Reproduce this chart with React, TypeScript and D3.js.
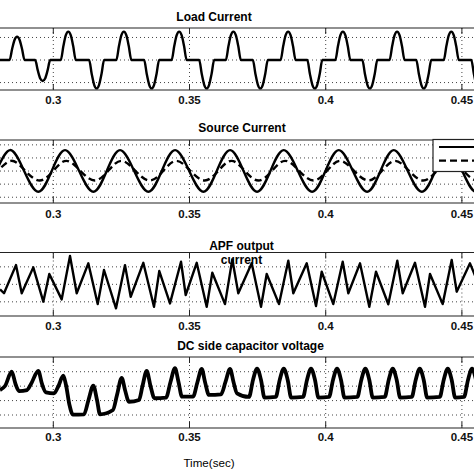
import React from "react";
import * as d3 from "d3";

// ---------- DATA (time in ms, values in per-unit of each panel) ----------
const xTickValues = [0.3, 0.35, 0.4, 0.45];
const xTickLabels = ["0.3", "0.35", "0.4", "0.45"];

const loadTicks = [-1, 0, 1];
const sourceTicks = [-2, -1, 0, 1, 2];
const apfTicks = [-1, 0, 1];
const dcTicks = [0, 1, 2, 3];

const titles = ["Load Current", "Source Current", "APF output", "DC side capacitor voltage"];
const apfTitleLine2 = "current";
const xAxisLabel = "Time(sec)";

const loadCurrent: [number, number][] = [
  [279.0, 0],
  [283.95, 0], [284.9, 0.5], [285.8, 0.9], [286.7, 1.03], [287.6, 0.9], [288.5, 0.5], [289.45, 0],
  [293.35, 0], [294.3, -0.46], [295.2, -0.82], [296.1, -0.93], [297.0, -0.82], [297.9, -0.46], [298.85, 0],
  [302.75, 0], [303.7, 0.62], [304.6, 1.1], [305.5, 1.26], [306.4, 1.1], [307.3, 0.62], [308.25, 0],
  [313.15, 0], [314.1, -0.62], [315.0, -1.1], [315.9, -1.26], [316.8, -1.1], [317.7, -0.62], [318.65, 0],
  [323.15, 0], [324.1, 0.62], [325.0, 1.1], [325.9, 1.26], [326.8, 1.1], [327.7, 0.62], [328.65, 0],
  [333.35, 0], [334.3, -0.62], [335.2, -1.1], [336.1, -1.26], [337.0, -1.1], [337.9, -0.62], [338.85, 0],
  [343.45, 0], [344.4, 0.62], [345.3, 1.1], [346.2, 1.26], [347.1, 1.1], [348.0, 0.62], [348.95, 0],
  [353.55, 0], [354.5, -0.62], [355.4, -1.1], [356.3, -1.26], [357.2, -1.1], [358.1, -0.62], [359.05, 0],
  [363.35, 0], [364.3, 0.62], [365.2, 1.1], [366.1, 1.26], [367.0, 1.1], [367.9, 0.62], [368.85, 0],
  [373.25, 0], [374.2, -0.62], [375.1, -1.1], [376.0, -1.26], [376.9, -1.1], [377.8, -0.62], [378.75, 0],
  [383.45, 0], [384.4, 0.62], [385.3, 1.1], [386.2, 1.26], [387.1, 1.1], [388.0, 0.62], [388.95, 0],
  [393.25, 0], [394.2, -0.62], [395.1, -1.1], [396.0, -1.26], [396.9, -1.1], [397.8, -0.62], [398.75, 0],
  [403.55, 0], [404.5, 0.62], [405.4, 1.1], [406.3, 1.26], [407.2, 1.1], [408.1, 0.62], [409.05, 0],
  [413.45, 0], [414.4, -0.62], [415.3, -1.1], [416.2, -1.26], [417.1, -1.1], [418.0, -0.62], [418.95, 0],
  [423.45, 0], [424.4, 0.62], [425.3, 1.1], [426.2, 1.26], [427.1, 1.1], [428.0, 0.62], [428.95, 0],
  [433.25, 0], [434.2, -0.62], [435.1, -1.1], [436.0, -1.26], [436.9, -1.1], [437.8, -0.62], [438.75, 0],
  [443.35, 0], [444.3, 0.62], [445.2, 1.1], [446.1, 1.26], [447.0, 1.1], [447.9, 0.62], [448.85, 0],
  [453.45, 0], [454.4, -0.62], [455.3, -1.1], [456.2, -1.26], [457.1, -1.1], [458.0, -0.62], [458.95, 0],
];

const sourceCurrentSolid: [number, number][] = [
  [274.0, -1.6], [279.0, 0], [284.1, 1.6], [289.3, 0], [294.5, -1.58], [299.4, 0],
  [304.3, 1.6], [309.5, 0], [314.7, -1.58], [319.6, 0], [324.5, 1.6], [329.7, 0],
  [334.9, -1.58], [339.8, 0], [344.7, 1.6], [349.9, 0], [355.1, -1.58], [360.0, 0],
  [364.9, 1.6], [369.85, 0], [374.8, -1.58], [379.7, 0], [384.6, 1.6], [389.8, 0],
  [395.0, -1.58], [399.9, 0], [404.8, 1.6], [410.0, 0], [415.2, -1.58], [420.1, 0],
  [425.0, 1.6], [430.15, 0], [435.3, -1.58], [440.2, 0], [445.1, 1.6], [450.15, 0],
  [455.2, -1.58], [460.0, 0],
];

const sourceCurrentDashed: [number, number][] = [
  [274.5, -0.72], [279.5, 0], [284.6, 0.78], [289.8, 0], [295.0, -0.72], [299.9, 0],
  [304.8, 0.78], [310.0, 0], [315.2, -0.72], [320.1, 0], [325.0, 0.78], [330.2, 0],
  [335.4, -0.72], [340.3, 0], [345.2, 0.78], [350.4, 0], [355.6, -0.72], [360.5, 0],
  [365.4, 0.78], [370.35, 0], [375.3, -0.72], [380.2, 0], [385.1, 0.78], [390.3, 0],
  [395.5, -0.72], [400.4, 0], [405.3, 0.78], [410.5, 0], [415.7, -0.72], [420.6, 0],
  [425.5, 0.78], [430.65, 0], [435.8, -0.72], [440.7, 0], [445.6, 0.78], [450.65, 0],
  [455.7, -0.72], [460.5, 0],
];

const apfCurrent: [number, number][] = [
  [280.43, -0.29], [281.9, -0.51], [286.3, 1.1], [288.4, -0.51], [292.65, 0.97], [296.33, -0.99],
  [298.53, 0.59], [303.08, -0.86], [306.13, 1.62], [308.59, -0.51], [312.85, 1.2], [316.3, -1.13],
  [318.61, 0.82], [323.02, -1.37], [326.32, 1.1], [328.41, -0.71], [333.04, 1.23], [336.96, -1.28],
  [338.91, 0.76], [342.84, -1.09], [346.88, 1.29], [348.6, -0.61], [352.64, 1.23], [356.31, -1.28],
  [358.37, 0.66], [363.03, -1.13], [365.71, 1.43], [367.91, -0.51], [372.83, 1.2], [376.25, -1.28],
  [378.34, 0.59], [382.86, -1.13], [386.27, 1.35], [388.11, -0.51], [393.03, 1.2], [396.44, -1.24],
  [398.53, 0.72], [402.79, -1.13], [406.24, 1.29], [408.3, -0.51], [412.59, 1.2], [416.01, -1.28],
  [418.46, 0.72], [422.98, -1.14], [426.28, 1.35], [428.27, -0.51], [432.78, 1.23], [436.45, -1.28],
  [438.29, 0.59], [442.95, -1.13], [446.25, 1.39], [448.09, -0.42], [452.97, 1.2], [455.17, 0.36],
];

const dcVoltage: [number, number][] = [
  [280.43, 1.73], [282.27, 2.01], [284.73, 3.0], [286.12, 2.15], [287.4, 1.66],
  [290.34, 1.73], [291.81, 2.15], [294.49, 3.05], [295.85, 2.15], [297.32, 1.57],
  [300.25, 1.5], [301.72, 1.94], [303.67, 2.72], [304.66, 2.08], [305.94, 0.69], [307.23, 0.02],
  [311.27, 0.05], [312.92, 1.04], [314.68, 2.03], [316.04, 1.04], [317.14, 0.05],
  [321.91, 0.35], [323.38, 1.39], [325.11, 2.58], [326.32, 1.73], [327.79, 0.92],
  [331.46, 1.04], [332.74, 2.01], [334.29, 3.05], [335.68, 2.01], [337.15, 1.16],
  [341.37, 1.2], [343.02, 2.29], [344.67, 3.24], [345.96, 2.29], [347.24, 1.27],
  [351.28, 1.27], [352.93, 2.29], [354.48, 3.19], [355.69, 2.29], [357.16, 1.39],
  [361.56, 1.43], [363.21, 2.29], [364.87, 3.19], [366.15, 2.29], [367.44, 1.5],
  [371.84, 1.25], [373.31, 2.43], [374.78, 3.22], [376.25, 2.43], [377.53, 1.21],
  [381.64, 1.25], [383.11, 2.43], [384.58, 3.22], [386.05, 2.43], [387.33, 1.21],
  [391.66, 1.25], [393.13, 2.43], [394.6, 3.22], [396.07, 2.43], [397.36, 1.21],
  [401.21, 1.25], [402.68, 2.43], [404.15, 3.22], [405.62, 2.43], [406.9, 1.21],
  [411.6, 1.25], [413.07, 2.43], [414.54, 3.22], [416.01, 2.43], [417.29, 1.21],
  [421.66, 1.25], [423.13, 2.43], [424.6, 3.22], [426.06, 2.43], [427.35, 1.21],
  [431.57, 1.25], [433.04, 2.43], [434.51, 3.22], [435.98, 2.43], [437.26, 1.21],
  [441.85, 1.25], [443.32, 2.43], [444.79, 3.22], [446.25, 2.43], [447.54, 1.21],
  [450.77, 1.25], [452.24, 2.43], [453.71, 3.22], [455.18, 2.43], [456.46, 1.21],
];

// ---------- LAYOUT ----------
const W = 474;
const H = 474;
const FONT = "'Liberation Sans', Arial, Helvetica, sans-serif";

type Series = { data: [number, number][]; dash?: string; width: number; curve: d3.CurveFactory };
type Panel = {
  top: number; bottom: number; yDomain: [number, number]; yTicks: number[];
  title: string; titleX: number; titleY: number; labelY: number; series: Series[];
};

const panels: Panel[] = [
  { top: 28, bottom: 90, yDomain: [-1.33, 1.42], yTicks: loadTicks, title: titles[0], titleX: 214, titleY: 21, labelY: 104,
    series: [{ data: loadCurrent, width: 2.4, curve: d3.curveMonotoneX }] },
  { top: 140, bottom: 203, yDomain: [-2.44, 2.37], yTicks: sourceTicks, title: titles[1], titleX: 242, titleY: 132, labelY: 217.5,
    series: [
      { data: sourceCurrentSolid, width: 2.4, curve: d3.curveNatural },
      { data: sourceCurrentDashed, width: 2.4, curve: d3.curveNatural, dash: "7,4" },
    ] },
  { top: 252.5, bottom: 316, yDomain: [-1.81, 1.82], yTicks: apfTicks, title: titles[2], titleX: 241.5, titleY: 250, labelY: 329.5,
    series: [{ data: apfCurrent, width: 2.4, curve: d3.curveLinear }] },
  { top: 357, bottom: 428, yDomain: [-0.9, 4.02], yTicks: dcTicks, title: titles[3], titleX: 250.5, titleY: 350, labelY: 441,
    series: [{ data: dcVoltage, width: 3.8, curve: d3.curveMonotoneX }] },
];

export default function App() {
  const x = d3.scaleLinear().domain([0.28043, 0.45444]).range([0, W]);
  return (
    <svg width={W} height={H} style={{ position: "absolute", left: 0, top: 0, background: "#fff" }} fontFamily={FONT}>
      <rect x={0} y={0} width={W} height={H} fill="#fff" />
      {panels.map((p, i) => {
        const y = d3.scaleLinear().domain(p.yDomain).range([p.bottom, p.top]);
        const clipId = `clip${i}`;
        return (
          <g key={i}>
            <defs>
              <clipPath id={clipId}>
                <rect x={0} y={p.top} width={W} height={p.bottom - p.top} />
              </clipPath>
            </defs>
            {p.yTicks.map((t) => (
              <line key={"h" + t} x1={0} x2={W} y1={y(t)} y2={y(t)} stroke="#444" strokeWidth={1} strokeDasharray="1,3" />
            ))}
            {xTickValues.map((t) => (
              <g key={"v" + t}>
                <line x1={x(t)} x2={x(t)} y1={p.top} y2={p.bottom} stroke="#444" strokeWidth={1} strokeDasharray="1,3" />
                <line x1={x(t)} x2={x(t)} y1={p.top} y2={p.top + 6} stroke="#222" strokeWidth={1} />
                <line x1={x(t)} x2={x(t)} y1={p.bottom} y2={p.bottom - 6} stroke="#222" strokeWidth={1} />
              </g>
            ))}
            <g clipPath={`url(#${clipId})`}>
              {p.series.map((s, j) => {
                const gen = d3.line<[number, number]>().x((d) => x(d[0] / 1000)).y((d) => y(d[1])).curve(s.curve);
                return (
                  <path key={j} d={gen(s.data) || ""} fill="none" stroke="#000" strokeWidth={s.width}
                    strokeDasharray={s.dash} strokeLinejoin="round" />
                );
              })}
            </g>
            <line x1={0} x2={W} y1={p.top} y2={p.top} stroke="#222" strokeWidth={1.2} />
            <line x1={0} x2={W} y1={p.bottom} y2={p.bottom} stroke="#222" strokeWidth={1.2} />
            {xTickValues.map((t, k) => (
              <text key={"l" + t} x={x(t)} y={p.labelY} textAnchor="middle" fontSize={11.5} fontWeight="bold" fill="#111">
                {xTickLabels[k]}
              </text>
            ))}
            <text x={p.titleX} y={p.titleY} textAnchor="middle" fontSize={12} fontWeight="bold" fill="#000">
              {p.title}
            </text>
          </g>
        );
      })}
      <text x={241.5} y={264} textAnchor="middle" fontSize={12} fontWeight="bold" fill="#000">{apfTitleLine2}</text>
      {/* legend of source current panel */}
      <rect x={433} y={139.5} width={60} height={32} fill="#fff" stroke="#222" strokeWidth={1.2} />
      <line x1={439} x2={480} y1={147} y2={147} stroke="#000" strokeWidth={2.2} />
      <line x1={439} x2={480} y1={160.7} y2={160.7} stroke="#000" strokeWidth={2.2} strokeDasharray="7,4" />
      <text x={209} y={467} textAnchor="middle" fontSize={11.6} fill="#000">{xAxisLabel}</text>
    </svg>
  );
}
